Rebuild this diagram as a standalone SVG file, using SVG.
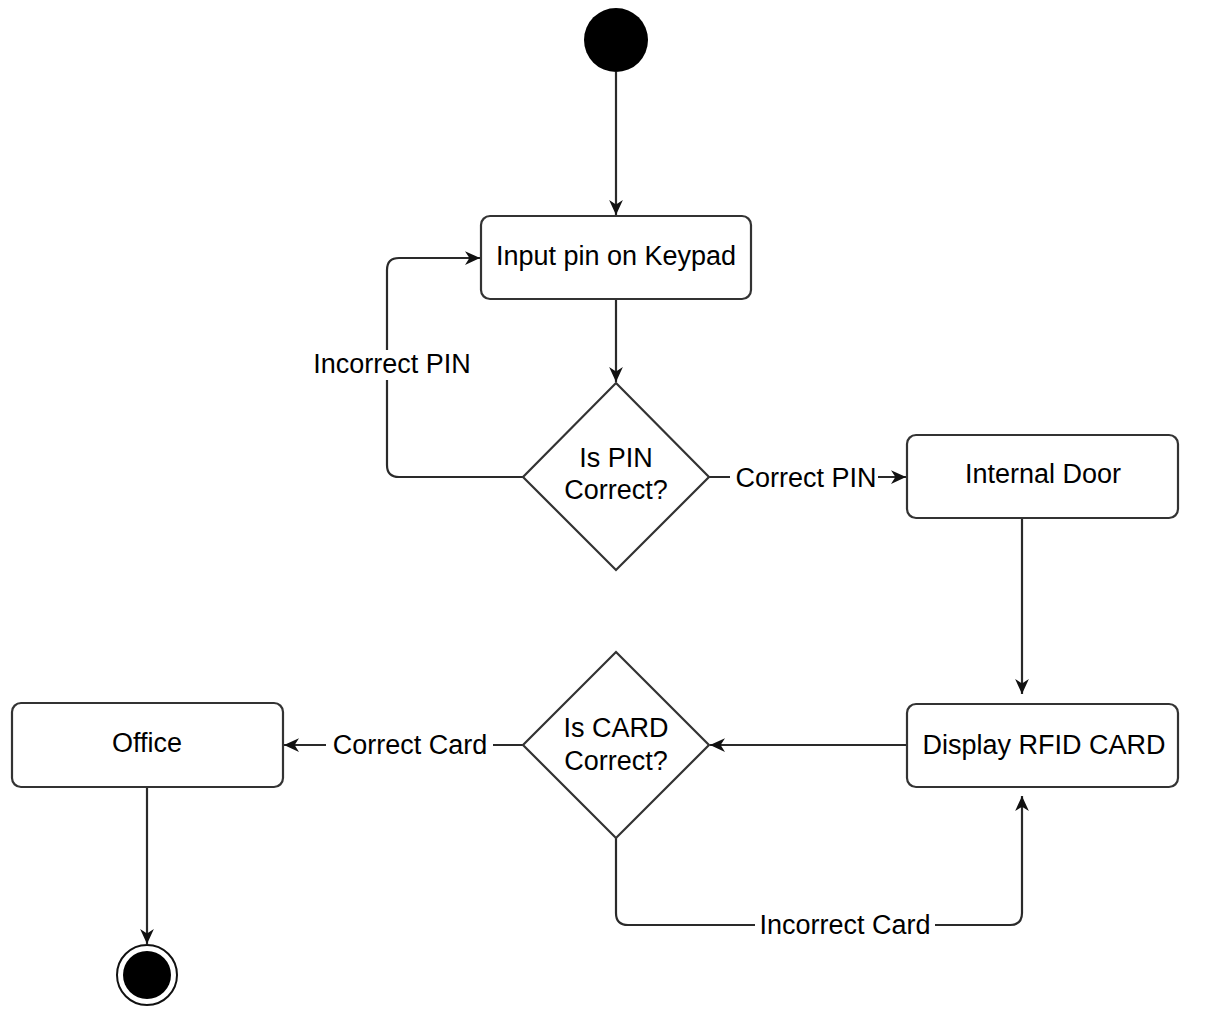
<svg xmlns="http://www.w3.org/2000/svg" width="1230" height="1029" viewBox="0 0 1230 1029">
<style>
.box{fill:#fff;stroke:#333;stroke-width:2.2}
.edge{fill:none;stroke:#2a2a2a;stroke-width:2.2}
.t{font-family:"Liberation Sans",Arial,sans-serif;font-size:27px;fill:#000;text-anchor:middle}
.lblbg{fill:#fff}
</style>
<defs>
<marker id="arr" viewBox="0 0 12 12" refX="12" refY="6" markerWidth="15" markerHeight="15" markerUnits="userSpaceOnUse" orient="auto">
<path d="M0,0.5 L12,6 L0,11.5 L3.5,6 z" fill="#111"/>
</marker>
</defs>
<rect width="1230" height="1029" fill="#fff"/>
<g id="connectors">
<path class="edge" d="M616,72 L616,215" marker-end="url(#arr)"/>
<path class="edge" d="M616,299 L616,382" marker-end="url(#arr)"/>
<path class="edge" d="M523,477 L399,477 Q387,477 387,465 L387,270 Q387,258 399,258 L480,258" marker-end="url(#arr)"/>
<rect class="lblbg" x="312" y="350" width="160" height="30"/>
<text class="t" x="392" y="373">Incorrect PIN</text>
<path class="edge" d="M709,477 L906,477" marker-end="url(#arr)"/>
<rect class="lblbg" x="730" y="463" width="148" height="30"/>
<text class="t" x="806" y="487">Correct PIN</text>
<path class="edge" d="M1022,512 L1022,694" marker-end="url(#arr)"/>
<path class="edge" d="M907,745 L710,745" marker-end="url(#arr)"/>
<path class="edge" d="M523,745 L284,745" marker-end="url(#arr)"/>
<rect class="lblbg" x="326" y="731" width="167" height="30"/>
<text class="t" x="410" y="754">Correct Card</text>
<path class="edge" d="M616,838 L616,913 Q616,925 628,925 L1010,925 Q1022,925 1022,913 L1022,796" marker-end="url(#arr)"/>
<rect class="lblbg" x="755" y="911" width="180" height="30"/>
<text class="t" x="845" y="934">Incorrect Card</text>
<path class="edge" d="M147,787 L147,944" marker-end="url(#arr)"/>
</g>
<g id="start"><circle cx="616" cy="40" r="32" fill="#000"/></g>
<g id="input-pin"><rect class="box" x="481" y="216" width="270" height="83" rx="9"/><text class="t" x="616" y="265">Input pin on Keypad</text></g>
<g id="is-pin-correct"><polygon class="box" points="616,383 709,477 616,570 523,477"/><text class="t" x="616" y="467">Is PIN</text><text class="t" x="616" y="499">Correct?</text></g>
<g id="internal-door"><rect class="box" x="907" y="435" width="271" height="83" rx="9"/><text class="t" x="1043" y="483">Internal Door</text></g>
<g id="display-rfid"><rect class="box" x="907" y="704" width="271" height="83" rx="9"/><text class="t" x="1044" y="754">Display RFID CARD</text></g>
<g id="is-card-correct"><polygon class="box" points="616,652 709,745 616,838 523,745"/><text class="t" x="616" y="737">Is CARD</text><text class="t" x="616" y="770">Correct?</text></g>
<g id="office"><rect class="box" x="12" y="703" width="271" height="84" rx="9"/><text class="t" x="147" y="752">Office</text></g>
<g id="end"><circle cx="147" cy="975" r="30" fill="#fff" stroke="#111" stroke-width="2"/><circle cx="147" cy="975" r="24" fill="#000"/></g>
</svg>
